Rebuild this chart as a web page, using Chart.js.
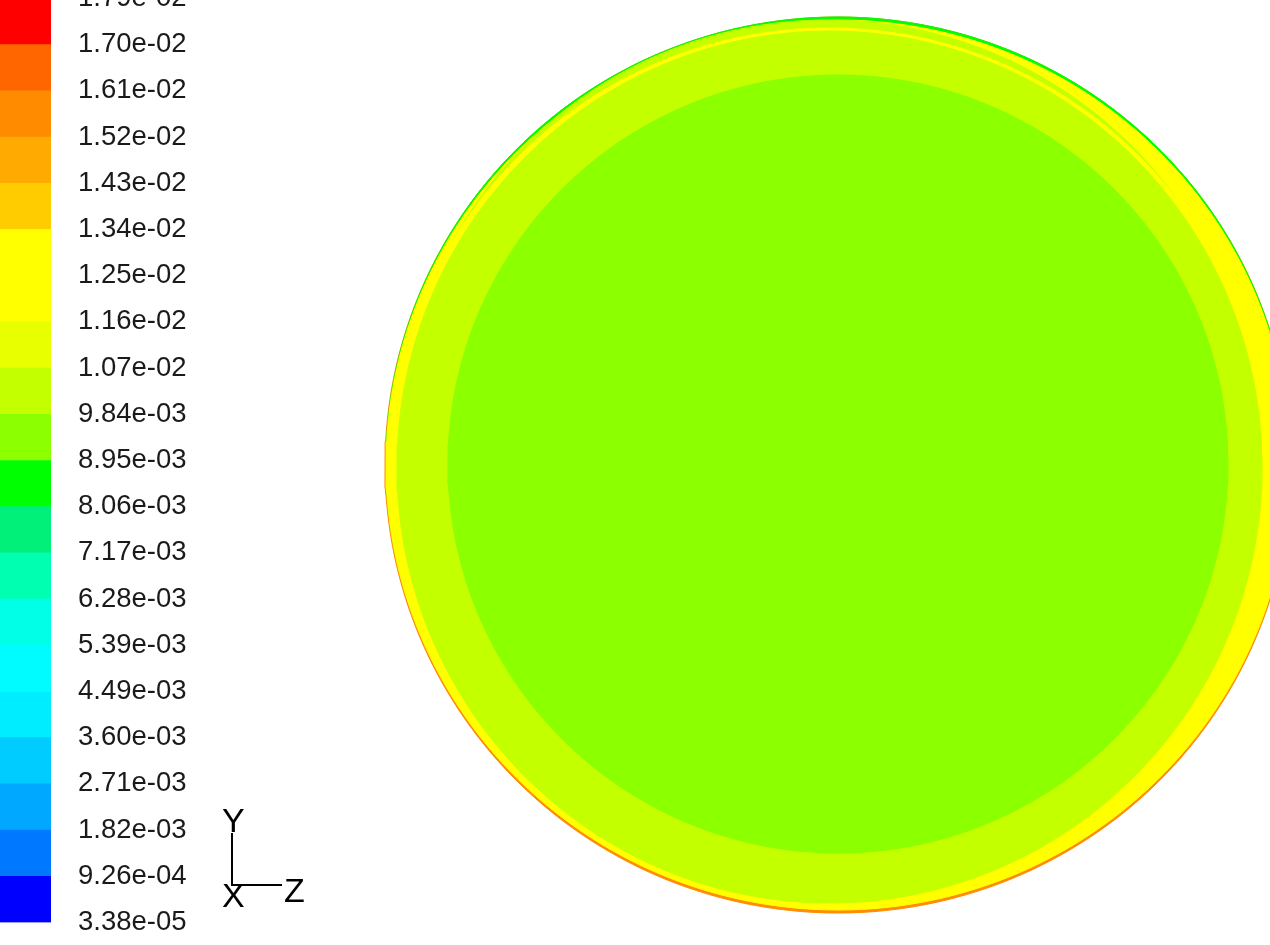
<!DOCTYPE html>
<html>
<head>
<meta charset="utf-8">
<title>Contours</title>
<script src="https://cdn.jsdelivr.net/npm/chart.js@4.4.1/dist/chart.umd.min.js"></script>
<style>
  html, body { margin: 0; padding: 0; background: #fff; overflow: hidden; }
  body { width: 1270px; height: 945px; position: relative; }
  #field { position: absolute; left: 0; top: 0; }
  #legend { position: absolute; left: 0; top: -45.5px; }
  .triad { position: absolute; font: 34px "Liberation Sans", Arial, sans-serif; color: #000; line-height: 1; }
  .axis { position: absolute; background: #000; }
</style>
</head>
<body>
<canvas id="field" width="1270" height="945"></canvas>
<canvas id="legend" width="200" height="1011"></canvas>
<div class="triad" style="left:222px;top:803px">Y</div>
<div class="triad" style="left:222px;top:878px">X</div>
<div class="triad" style="left:284px;top:873px">Z</div>
<div class="axis" style="left:231px;top:833px;width:2px;height:53px"></div>
<div class="axis" style="left:232px;top:884px;width:50px;height:2px"></div>
<script>
// colour map levels, bottom to top
var levels = [3.38e-05, 9.26e-04, 1.82e-03, 2.71e-03, 3.60e-03, 4.49e-03, 5.39e-03,
  6.28e-03, 7.17e-03, 8.06e-03, 8.95e-03, 9.84e-03, 1.07e-02, 1.16e-02, 1.25e-02,
  1.34e-02, 1.43e-02, 1.52e-02, 1.61e-02, 1.70e-02, 1.79e-02];
var bandColors = ['#0000ff', '#0078ff', '#00a8ff', '#00ccff', '#00ecff', '#00fcff',
  '#00ffe6', '#00ffb0', '#00f07a', '#00ff00', '#8cff00', '#c4ff00', '#e8ff00',
  '#ffff00', '#ffff00', '#ffcc00', '#ffaa00', '#ff8c00', '#ff6600', '#ff0000'];

// contour boundaries of the section (unit = pipe radius), outside to inside
var contourBand = [17, 9, 13, 11, 13, 11, 10];
var contourZ = [0, 0, 0, -0.0223, -0.02, -0.0189, 0];
var contourY = [0, 0.0056, 0, 0.0312, -0.0033, -0.0045, 0.0022];
var contourRz = [1.0089, 1.0067, 1.0067, 0.9577, 0.9777, 0.9633, 0.8686];
var contourRy = [0.9978, 0.9922, 0.9911, 0.9599, 0.9766, 0.9710, 0.8664];

// visible window of the view
var viewZ = [-1.8664, 0.9621];
var viewY = [-1.0690, 1.0356];

function fmt(v) {
  var p = v.toExponential(2).split('e');
  var n = Math.abs(parseInt(p[1], 10));
  return p[0] + 'e' + (p[1][0] === '-' ? '-' : '+') + (n < 10 ? '0' : '') + n;
}

function contourPoints(i) {
  var pts = [];
  for (var k = 0; k <= 240; k++) {
    var a = k / 240 * 2 * Math.PI;
    pts.push({ x: contourZ[i] + contourRz[i] * Math.cos(a), y: contourY[i] + contourRy[i] * Math.sin(a) });
  }
  return pts;
}

new Chart(document.getElementById('field'), {
  type: 'scatter',
  data: {
    datasets: contourBand.map(function (b, i) {
      return {
        data: contourPoints(i),
        order: contourBand.length - i, // inner contours on top
        showLine: true,
        fill: 'shape',
        backgroundColor: bandColors[b],
        borderColor: bandColors[b],
        borderWidth: 1,
        pointRadius: 0,
        tension: 0
      };
    })
  },
  options: {
    responsive: false,
    animation: false,
    events: [],
    layout: { padding: 0 },
    plugins: { legend: { display: false }, tooltip: { enabled: false } },
    scales: {
      x: { type: 'linear', display: false, min: viewZ[0], max: viewZ[1] },
      y: { type: 'linear', display: false, min: viewY[0], max: viewY[1] }
    }
  }
});

new Chart(document.getElementById('legend'), {
  type: 'bar',
  data: {
    labels: [''],
    datasets: bandColors.map(function (c) {
      return { data: [1], backgroundColor: c, borderWidth: 0, barPercentage: 1, categoryPercentage: 1 };
    })
  },
  options: {
    responsive: false,
    animation: false,
    events: [],
    layout: { padding: 0 },
    plugins: { legend: { display: false }, tooltip: { enabled: false } },
    scales: {
      x: { stacked: true, display: false },
      y: {
        stacked: true,
        position: 'right',
        min: 0,
        max: levels.length - 1,
        afterFit: function (s) { s.width = 149; },
        grid: { display: false, drawTicks: false },
        border: { display: false },
        ticks: {
          stepSize: 1,
          autoSkip: false,
          padding: 27,
          color: '#1a1a1a',
          font: { family: '"Liberation Sans", Arial, sans-serif', size: 27.5 },
          callback: function (v) { return fmt(levels[v]); }
        }
      }
    }
  }
});
</script>
</body>
</html>
